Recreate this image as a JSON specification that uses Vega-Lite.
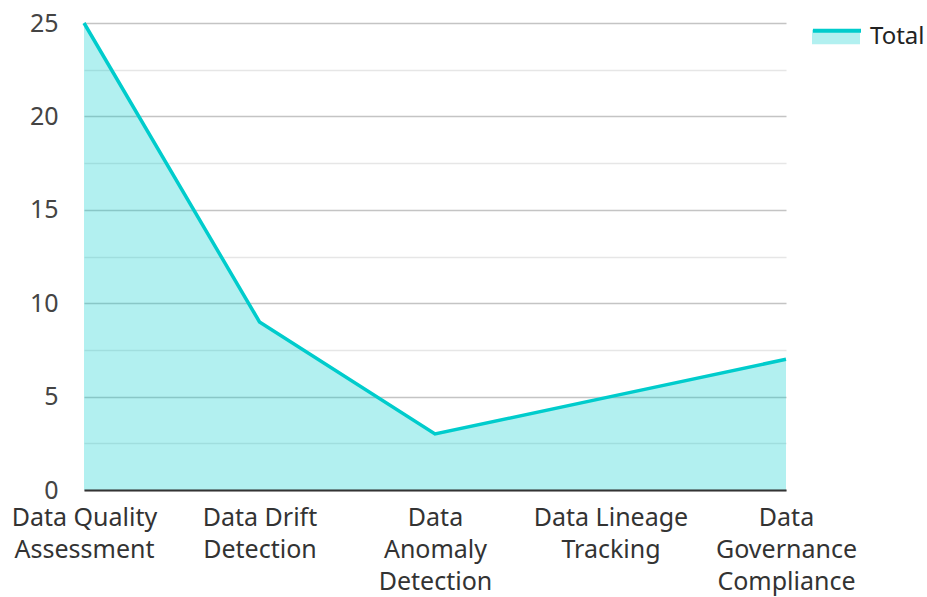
{
  "$schema": "https://vega.github.io/schema/vega-lite/v6.json",
  "width": 702,
  "height": 467,
  "autosize": "none",
  "padding": {"left": 84, "top": 23, "right": 141, "bottom": 107},
  "config": {
    "font": "Noto Sans",
    "view": {"stroke": null}
  },
  "data": {
    "values": [
      {"task": "Data Quality Assessment", "value": 25, "series": "Total"},
      {"task": "Data Drift Detection", "value": 9, "series": "Total"},
      {"task": "Data Anomaly Detection", "value": 3, "series": "Total"},
      {"task": "Data Lineage Tracking", "value": 5, "series": "Total"},
      {"task": "Data Governance Compliance", "value": 7, "series": "Total"}
    ]
  },
  "encoding": {
    "x": {
      "field": "task",
      "type": "ordinal",
      "sort": null,
      "scale": {"type": "point", "padding": 0},
      "axis": {
        "title": null,
        "labelAngle": 0,
        "labelFontSize": 25,
        "labelColor": "#333333",
        "labelLineHeight": 32,
        "labelPadding": 15,
        "labelBaseline": "top",
        "labelExpr": "datum.value == 'Data Quality Assessment' ? ['Data Quality','Assessment'] : datum.value == 'Data Drift Detection' ? ['Data Drift','Detection'] : datum.value == 'Data Anomaly Detection' ? ['Data','Anomaly','Detection'] : datum.value == 'Data Lineage Tracking' ? ['Data Lineage','Tracking'] : ['Data','Governance','Compliance']",
        "domainColor": "#333333",
        "domainWidth": 2,
        "ticks": false,
        "grid": false,
        "labelOverlap": false,
        "zindex": 1
      }
    },
    "y": {
      "field": "value",
      "type": "quantitative",
      "scale": {"domain": [0, 25], "nice": false},
      "axis": {
        "title": null,
        "values": [0, 2.5, 5, 7.5, 10, 12.5, 15, 17.5, 20, 22.5, 25],
        "labelExpr": "datum.value % 5 == 0 ? datum.label : ''",
        "labelFontSize": 25,
        "labelColor": "#444444",
        "labelPadding": 26,
        "domain": false,
        "ticks": false,
        "gridColor": {"expr": "datum.value % 5 == 0 ? '#c4c4c4' : '#e6e6e6'"},
        "gridWidth": 1.5
      }
    }
  },
  "layer": [
    {
      "mark": {"type": "area", "opacity": 0.3, "color": "#00cccc"},
      "encoding": {
        "fill": {
          "field": "series",
          "type": "nominal",
          "scale": {"range": ["#00cccc"]},
          "legend": {
            "title": null,
            "orient": "none",
            "legendX": 727,
            "legendY": -11,
            "padding": 0,
            "labelFontSize": 24,
            "labelColor": "#222222",
            "labelOffset": 9,
            "symbolType": "M-1,-0.3H1V0.3H-1Z",
            "symbolSize": 2304,
            "encode": {
              "symbols": {
                "update": {
                  "fill": {"value": "#b2f0f0"},
                  "opacity": {"value": 1},
                  "fillOpacity": {"value": 1}
                }
              }
            }
          }
        }
      }
    },
    {
      "mark": {"type": "line", "strokeWidth": 3.5},
      "encoding": {
        "stroke": {
          "field": "series",
          "type": "nominal",
          "scale": {"range": ["#00cccc"]},
          "legend": {
            "title": null,
            "orient": "none",
            "legendX": 727,
            "legendY": -11,
            "padding": 0,
            "labelFontSize": 24,
            "labelExpr": "''",
            "labelOffset": 9,
            "symbolType": "M-1,-0.3H1",
            "symbolSize": 2304,
            "symbolStrokeWidth": 4,
            "symbolStrokeColor": "#00cccc",
            "symbolFillColor": "transparent",
            "symbolOpacity": 1
          }
        }
      }
    }
  ]
}
